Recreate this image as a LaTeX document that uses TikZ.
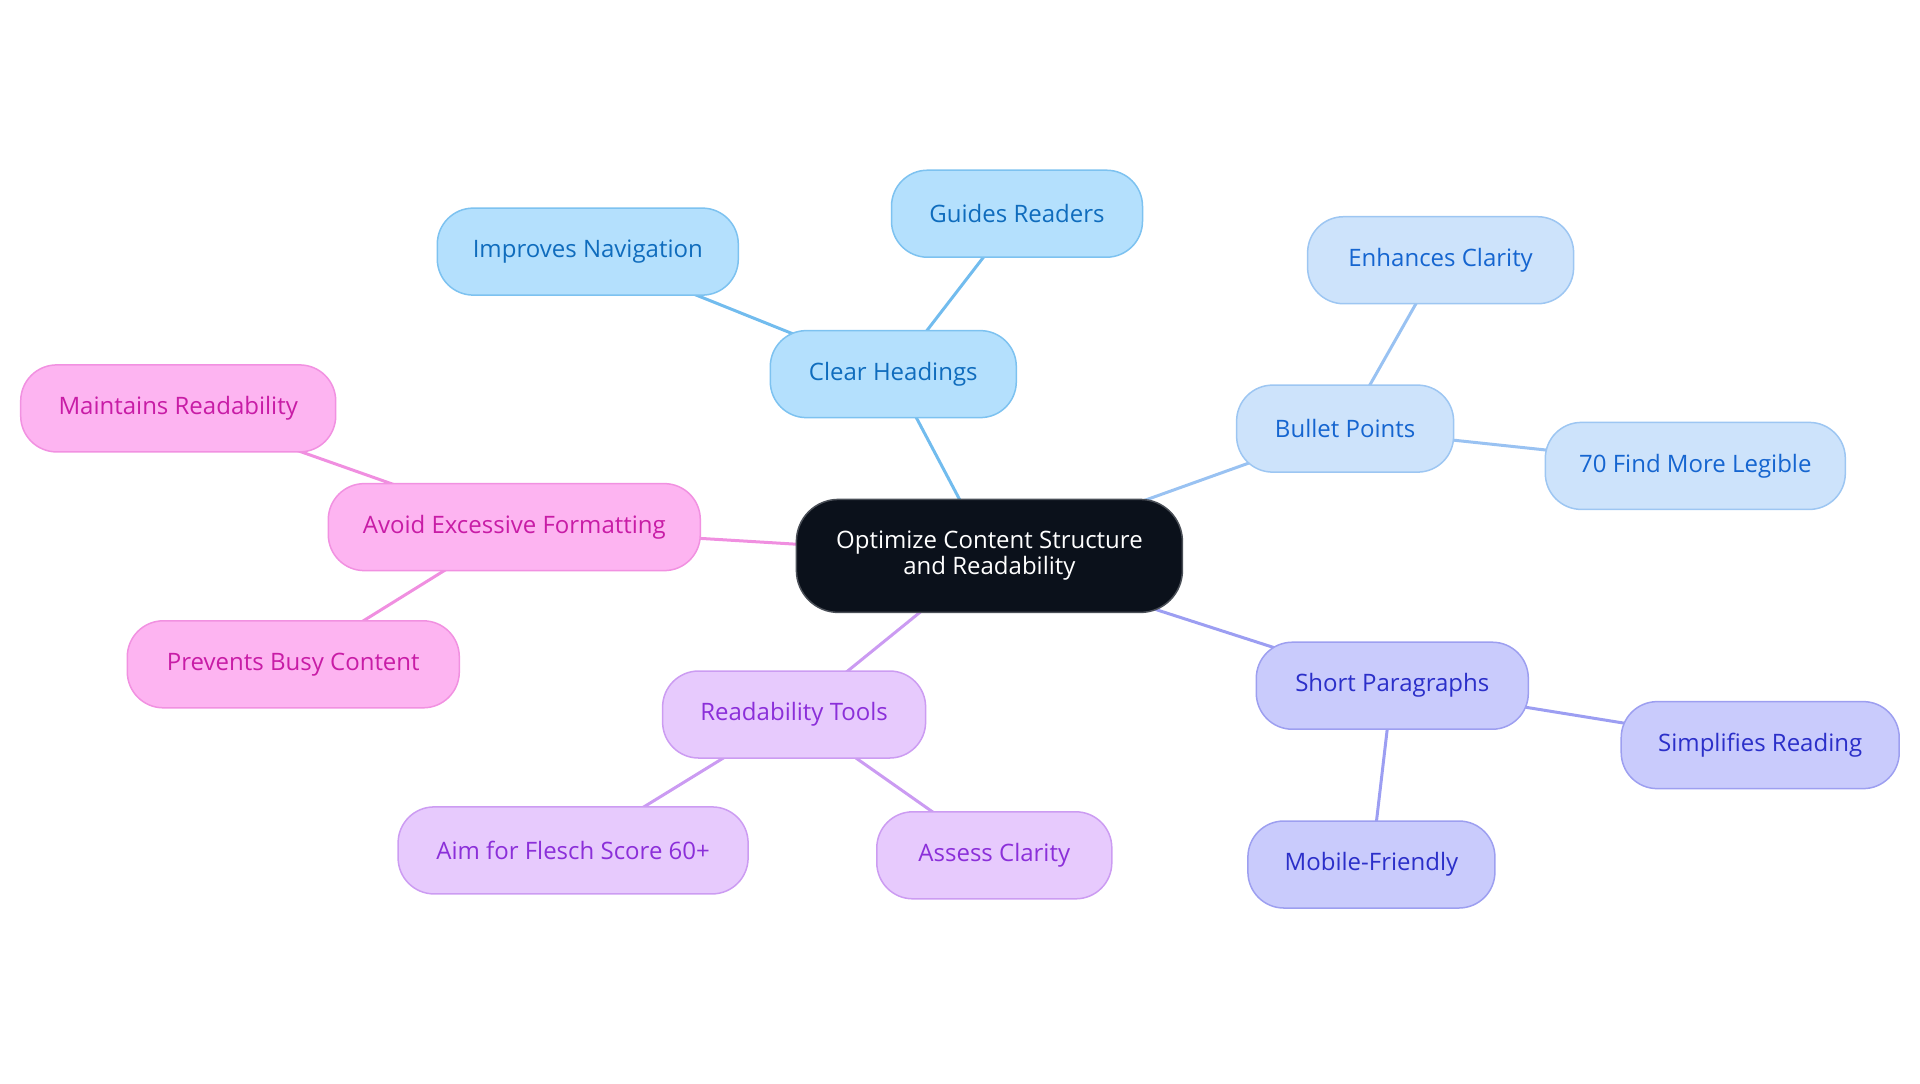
\documentclass[tikz,border=0pt]{standalone}
\usepackage{fontspec}
\setmainfont{Open Sans}
\usetikzlibrary{backgrounds}
\definecolor{cfill}{HTML}{0B111B}
\definecolor{cdraw}{HTML}{4A4F57}
\definecolor{aFill}{HTML}{B4E0FD}\definecolor{aDraw}{HTML}{7DC2F0}\definecolor{aText}{HTML}{0F6CBD}\definecolor{aLine}{HTML}{72BCEE}
\definecolor{bFill}{HTML}{CDE3FB}\definecolor{bDraw}{HTML}{9DC6F2}\definecolor{bText}{HTML}{1565D0}\definecolor{bLine}{HTML}{99C2F2}
\definecolor{iFill}{HTML}{C9CBFC}\definecolor{iDraw}{HTML}{9D9FF0}\definecolor{iText}{HTML}{2B2FC9}\definecolor{iLine}{HTML}{9C9EF2}
\definecolor{pFill}{HTML}{E7CAFD}\definecolor{pDraw}{HTML}{CC9CF2}\definecolor{pText}{HTML}{8B2FD9}\definecolor{pLine}{HTML}{CB9BF2}
\definecolor{mFill}{HTML}{FDB4F1}\definecolor{mDraw}{HTML}{F191E1}\definecolor{mText}{HTML}{C81CA6}\definecolor{mLine}{HTML}{F08FE0}
\begin{document}
\begin{tikzpicture}[x=0.5pt,y=-0.5pt,
  base/.style={rounded corners=18pt, minimum height=43.5pt, inner sep=0pt, line width=0.75pt, font=\fontsize{12}{13}\selectfont, align=center},
  hub/.style={base, fill=cfill, draw=cdraw, text=white, rounded corners=21pt, minimum width=193pt, minimum height=56.5pt},
  nA/.style={base, fill=aFill, draw=aDraw, text=aText},
  nB/.style={base, fill=bFill, draw=bDraw, text=bText},
  nI/.style={base, fill=iFill, draw=iDraw, text=iText},
  nP/.style={base, fill=pFill, draw=pDraw, text=pText},
  nM/.style={base, fill=mFill, draw=mDraw, text=mText},
  link/.style={line width=1.5pt}
]
\useasboundingbox (0,0) rectangle (1920,1083);

\node[hub] (c) at (989.4,555.9) {Optimize Content Structure\\and Readability};

\node[nA, minimum width=123pt] (ch) at (893.3,374.1) {Clear Headings};
\node[nA, minimum width=125.5pt] (gr) at (1017,213.7) {Guides Readers};
\node[nA, minimum width=150.5pt] (in) at (587.8,251.6) {Improves Navigation};

\node[nB, minimum width=108.5pt] (bp) at (1345.1,428.6) {Bullet Points};
\node[nB, minimum width=133pt] (ec) at (1440.6,260.2) {Enhances Clarity};
\node[nB, minimum width=150pt] (fl) at (1695.3,465.9) {70 Find More Legible};

\node[nM, minimum width=186pt] (af) at (514.3,527.1) {Avoid Excessive Formatting};
\node[nM, minimum width=157.5pt] (mr) at (178.2,408.4) {Maintains Readability};
\node[nM, minimum width=166pt] (pb) at (293.3,664.3) {Prevents Busy Content};

\node[nP, minimum width=131.5pt] (rt) at (794.1,714.5) {Readability Tools};
\node[nP, minimum width=175pt] (fs) at (573.1,850.4) {Aim for Flesch Score 60+};
\node[nP, minimum width=117.5pt] (ac) at (994.3,855.3) {Assess Clarity};

\node[nI, minimum width=136pt] (sp) at (1392.3,685.7) {Short Paragraphs};
\node[nI, minimum width=139pt] (sr) at (1760.2,745.1) {Simplifies Reading};
\node[nI, minimum width=123.5pt] (mf) at (1371.4,864.5) {Mobile-Friendly};

\begin{pgfonlayer}{background}
\draw[link, aLine] (c.center) -- (ch.center);
\draw[link, aLine] (ch.center) -- (gr.center);
\draw[link, aLine] (ch.center) -- (in.center);
\draw[link, bLine] (c.center) -- (bp.center);
\draw[link, bLine] (bp.center) -- (ec.center);
\draw[link, bLine] (bp.center) -- (fl.center);
\draw[link, mLine] (c.center) -- (af.center);
\draw[link, mLine] (af.center) -- (mr.center);
\draw[link, mLine] (af.center) -- (pb.center);
\draw[link, pLine] (c.center) -- (rt.center);
\draw[link, pLine] (rt.center) -- (fs.center);
\draw[link, pLine] (rt.center) -- (ac.center);
\draw[link, iLine] (c.center) -- (sp.center);
\draw[link, iLine] (sp.center) -- (sr.center);
\draw[link, iLine] (sp.center) -- (mf.center);
\end{pgfonlayer}
\end{tikzpicture}
\end{document}
